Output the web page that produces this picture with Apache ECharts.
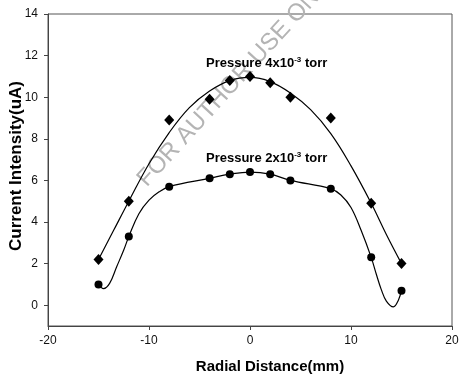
<!DOCTYPE html>
<html>
<head>
<meta charset="utf-8">
<script src="https://cdn.jsdelivr.net/npm/echarts@6/dist/echarts.min.js"></script>
<style>html,body{margin:0;padding:0;background:#fff}#c{width:474px;height:381px}</style>
</head>
<body>
<div id="c"></div>
<script>
// Measured points
const radialPos = [-15, -12, -8, -4, -2, 0, 2, 4, 8, 12, 15];
const current4e3 = [2.2, 5.0, 8.9, 9.9, 10.8, 11.0, 10.7, 10.0, 9.0, 4.9, 2.0];
const current2e3 = [1.0, 3.3, 5.7, 6.1, 6.3, 6.4, 6.3, 6.0, 5.6, 2.3, 0.7];

// Fitted curves
const fit4X = [-15, -13.5, -12, -10, -8, -6, -4, -2, 0, 2, 4, 6, 8, 10, 12, 13.5, 15];
const fit4Y = [2.2, 3.6, 5.0, 6.8, 8.3, 9.5, 10.3, 10.8, 10.95, 10.75, 10.2, 9.4, 8.25, 6.7, 4.9, 3.4, 2.0];
const fit2X = [-15, -14.5, -13.9, -13.2, -12.5, -12, -11, -10, -9, -8, -4, -2, 0, 2, 4, 8, 9, 10, 11, 12, 12.5, 13, 13.5, 14.2, 14.7, 15];
const fit2Y = [1.0, 0.8, 1.05, 1.85, 2.65, 3.3, 4.4, 5.05, 5.45, 5.7, 6.1, 6.3, 6.4, 6.3, 6.0, 5.6, 5.3, 4.7, 3.6, 2.3, 1.5, 0.75, 0.2, -0.08, 0.25, 0.72];

// Axis ticks
const xTicks = [-20, -10, 0, 10, 20];
const yTicks = [0, 2, 4, 6, 8, 10, 12, 14];

const font = 'Liberation Sans, Arial, sans-serif';
const zip = (xs, ys) => xs.map((x, i) => [x, ys[i]]);

const chart = echarts.init(document.getElementById('c'), null, {renderer: 'canvas'});
chart.setOption({
  animation: false,
  backgroundColor: '#fff',
  grid: {left: 48, right: 22, top: 14, bottom: 55, show: true, borderColor: '#555', borderWidth: 1},
  xAxis: {
    type: 'value', min: xTicks[0], max: xTicks[xTicks.length - 1], interval: 10,
    axisLine: {onZero: false, lineStyle: {color: '#444', width: 1}},
    axisTick: {length: 4, lineStyle: {color: '#444'}},
    axisLabel: {fontSize: 12, color: '#111', fontFamily: font, margin: 9},
    splitLine: {show: false}
  },
  yAxis: {
    type: 'value', min: -1, max: 14,
    axisLine: {show: true, onZero: false, lineStyle: {color: '#444', width: 1}},
    axisTick: {show: true, length: 4, customValues: yTicks, lineStyle: {color: '#444'}},
    axisLabel: {fontSize: 12, color: '#111', fontFamily: font, margin: 10, customValues: yTicks},
    splitLine: {show: false}
  },
  graphic: [
    {type: 'text', x: 238, y: 78, rotation: 0.83, z: 0, silent: true,
      style: {text: 'FOR AUTHOR USE ONLY', font: '24px ' + font, fill: '#b4b4b4', align: 'center', verticalAlign: 'middle'}},
    {type: 'text', x: 206, y: 63, z: 10,
      style: {text: 'Pressure 4x10{s|-3} torr', font: 'bold 13px ' + font, fill: '#000', verticalAlign: 'middle',
        rich: {s: {fontSize: 8, fontWeight: 'bold', fontFamily: font, verticalAlign: 'top', padding: [0, 0, 6, 0]}}}},
    {type: 'text', x: 206, y: 158, z: 10,
      style: {text: 'Pressure 2x10{s|-3} torr', font: 'bold 13px ' + font, fill: '#000', verticalAlign: 'middle',
        rich: {s: {fontSize: 8, fontWeight: 'bold', fontFamily: font, verticalAlign: 'top', padding: [0, 0, 6, 0]}}}},
    {type: 'text', x: 270, y: 367,
      style: {text: 'Radial Distance(mm)', font: 'bold 15px ' + font, fill: '#000', align: 'center', verticalAlign: 'middle'}},
    {type: 'text', x: 16.5, y: 166, rotation: Math.PI / 2,
      style: {text: 'Current Intensity(uA)', font: 'bold 17px ' + font, fill: '#000', align: 'center', verticalAlign: 'middle'}}
  ],
  series: [
    {type: 'line', data: zip(fit4X, fit4Y), smooth: 0.4, showSymbol: false, lineStyle: {color: '#000', width: 1.2}, z: 3},
    {type: 'line', data: zip(fit2X, fit2Y), smooth: 0.4, showSymbol: false, lineStyle: {color: '#000', width: 1.2}, z: 3},
    {type: 'scatter', data: zip(radialPos, current4e3), symbol: 'diamond', symbolSize: [10, 11], itemStyle: {color: '#000', opacity: 1}, z: 4},
    {type: 'scatter', data: zip(radialPos, current2e3), symbol: 'circle', symbolSize: 8, itemStyle: {color: '#000', opacity: 1}, z: 4}
  ]
});
</script>
</body>
</html>
